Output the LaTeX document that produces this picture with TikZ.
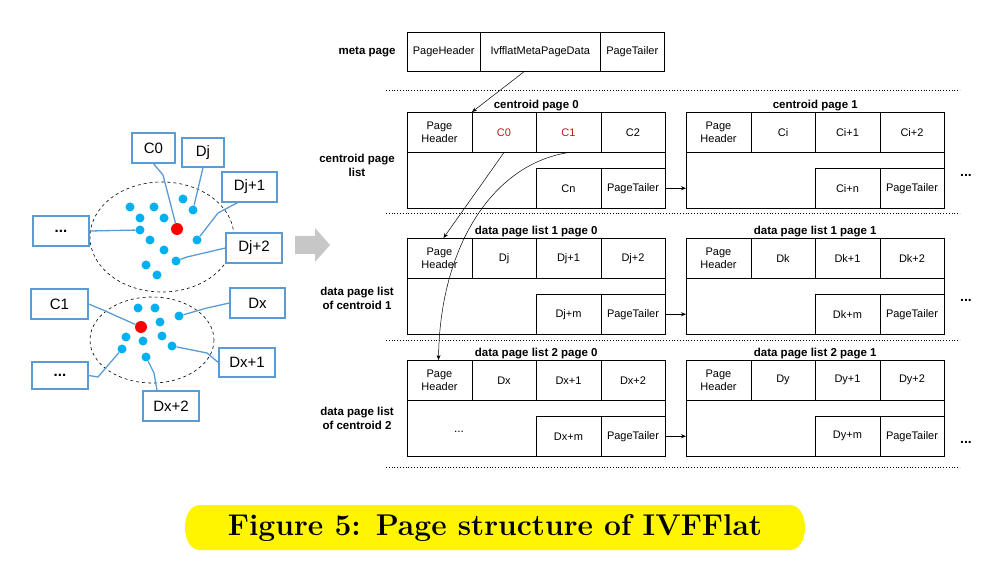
\documentclass[tikz,border=0pt]{standalone}
\usepackage{fontspec}
\setsansfont{Liberation Sans}
\usetikzlibrary{arrows.meta,shapes.geometric}
\definecolor{bbox}{RGB}{91,155,213}
\definecolor{dotc}{RGB}{0,176,240}
\definecolor{cred}{RGB}{180,30,30}
\definecolor{hl}{RGB}{255,245,0}
\tikzset{
 cell/.style={draw,line width=0.5pt,minimum width=64.5pt,minimum height=40pt,anchor=north west,inner sep=0pt,font=\sffamily\fontsize{11}{13}\selectfont,align=center},
 outer/.style={draw,line width=0.5pt,minimum width=258pt,minimum height=96pt,anchor=north west,inner sep=0pt},
 ttl/.style={font=\sffamily\bfseries\fontsize{11.5}{13}\selectfont},
 lab/.style={font=\sffamily\bfseries\fontsize{11.5}{14}\selectfont,align=center},
 sep/.style={dotted,line width=0.8pt},
 lbox/.style={draw=bbox,line width=1.3pt,fill=white,inner sep=0pt,font=\sffamily\fontsize{15}{16}\selectfont},
 lead/.style={draw=bbox,line width=1.3pt},
 dt/.style={fill=dotc,draw=none,circle,minimum size=9pt,inner sep=0pt},
 rd/.style={fill=red,draw=none,circle,minimum size=12pt,inner sep=0pt},
 arr/.style={-{Stealth[length=5pt,width=4pt]},line width=0.5pt},
 mcell/.style={draw,line width=0.5pt,minimum height=39pt,anchor=north west,inner sep=0pt,font=\sffamily\fontsize{11}{13}\selectfont}
}
\newcommand\pgblk[9]{%
 \node[outer] (#1) at (#2,#3) {};
 \node[ttl,above] at ([yshift=-2pt]#1.north) {#4};
 \node[cell] (#1-h) at (#2,#3) {Page\\Header};
 \node[cell] (#1-a) at (#2+64.5,#3) {#5};
 \node[cell] (#1-b) at (#2+129,#3) {#6};
 \node[cell] (#1-c) at (#2+193.5,#3) {#7};
 \node[cell] (#1-n) at (#2+129,#3+56) {#8};
 \node[cell] (#1-t) at (#2+193.5,#3+56) {PageTailer};
 \node[font=\sffamily\fontsize{12}{13}\selectfont] (#1-e) at (#2+52,#3+72) {#9};
}
\begin{document}
\begin{tikzpicture}[x=1pt,y=-1pt]
\useasboundingbox (0,0) rectangle (997,564);
\draw[dashed,line width=0.6pt] (162,237) ellipse [x radius=72,y radius=55];
\draw[dashed,line width=0.6pt] (152,340) ellipse [x radius=62,y radius=43];
\foreach \p [count=\i] in {(130,207),(154,207),(183,199),(193,210),(140,218),(164,218),(140,230),(150,240),(197,240),(164,250),(176,261),(146,265),(157,275)}
  \node[dt] (e\i) at \p {};
\node[rd] (r0) at (177,229) {};
\foreach \p [count=\i] in {(138,308),(155,308),(179,316),(160,322),(126,337),(143,341),(162,336),(172,346),(122,349),(146,357)}
  \node[dt] (f\i) at \p {};
\node[rd] (r1) at (141,327) {};
\node[lbox,minimum width=43pt,minimum height=30pt] (bC0) at (153.5,148) {C0};
\node[lbox,minimum width=42pt,minimum height=29pt] (bDj) at (203,152.5) {Dj};
\node[lbox,minimum width=55pt,minimum height=30pt] (bDj1) at (249.5,187) {Dj+1};
\node[lbox,minimum width=56pt,minimum height=30pt] (bd1) at (61,231) {\textbf{...}};
\node[lbox,minimum width=56pt,minimum height=30pt] (bDj2) at (254,248) {Dj+2};
\node[lbox,minimum width=57pt,minimum height=30pt] (bC1) at (59.5,304) {C1};
\node[lbox,minimum width=55pt,minimum height=30pt] (bDx) at (257.5,303) {Dx};
\node[lbox,minimum width=56pt,minimum height=29pt] (bDx1) at (247,362.5) {Dx+1};
\node[lbox,minimum width=56pt,minimum height=27pt] (bd2) at (60,375.5) {\textbf{...}};
\node[lbox,minimum width=56pt,minimum height=30pt] (bDx2) at (171,406) {Dx+2};
\draw[lead] (bC0.south) -- (163,175) -- (r0);
\draw[lead] (bDj.south) -- (e4);
\draw[lead] ([xshift=-12pt]bDj1.south) -- (218,213) -- (e9);
\draw[lead] (bd1.east) -- (e7);
\draw[lead] (bDj2.west) -- (187,257) -- (e11);
\draw[lead] (bC1.east) -- (103,310) -- (r1);
\draw[lead] (bDx.west) -- (207,308) -- (f3);
\draw[lead] (bDx1.west) -- (207,353) -- (f8);
\draw[lead] (bd2.east) -- (98,377) -- (f9);
\draw[lead] ([xshift=-14pt]bDx2.north) -- (154,373) -- (f10);
\fill[black!22] (295,236) -- (315,236) -- (315,228) -- (330,245) -- (315,262) -- (315,254) -- (295,254) -- cycle;
\node[lab,anchor=east] (ml) at (399,52) {meta page};
\node[mcell,minimum width=73pt] (m1) at (407,32) {PageHeader};
\node[mcell,minimum width=120pt] (m2) at (480,32) {IvfflatMetaPageData};
\node[mcell,minimum width=64pt] (m3) at (600,32) {PageTailer};
\foreach \yy in {90,213,340,467} \draw[sep] (386,\yy) -- (960,\yy);
\pgblk{c0}{407}{112}{centroid page 0}{\textcolor{cred}{C0}}{\textcolor{cred}{C1}}{C2}{Cn}{}
\pgblk{c1}{686}{112}{centroid page 1}{Ci}{Ci+1}{Ci+2}{Ci+n}{}
\pgblk{d1}{407}{238}{data page list 1 page 0}{Dj}{Dj+1}{Dj+2}{Dj+m}{}
\pgblk{d2}{686}{238}{data page list 1 page 1}{Dk}{Dk+1}{Dk+2}{Dk+m}{}
\pgblk{g1}{407}{360}{data page list 2 page 0}{Dx}{Dx+1}{Dx+2}{Dx+m}{...}
\pgblk{g2}{686}{360}{data page list 2 page 1}{Dy}{Dy+1}{Dy+2}{Dy+m}{}
\node[lab] at (357,165) {centroid page\\list};
\node[lab] at (357,298) {data page list\\of centroid 1};
\node[lab] at (357,418) {data page list\\of centroid 2};
\foreach \a/\b in {c0/c1,d1/d2,g1/g2}
  \draw[arr,line width=1pt] (\a-t.east) -- (\a-t.east -| \b.west);
\foreach \yy in {175,300,442}
  \node[font=\sffamily\bfseries\fontsize{14}{14}\selectfont] at (966,\yy) {...};
\draw[arr] (525,71) -- (c0-h.north east);
\draw[arr] (c0-a.south) -- ([xshift=4pt]d1-h.north);
\draw[arr] (c0-b.south) .. controls (490,165) and (440,250) .. ([xshift=-1pt]g1-h.north);
\fill[hl] (200,505) -- (790,505) .. controls (810,505) and (810,550) .. (790,550) -- (200,550) .. controls (180,550) and (180,505) .. (200,505) -- cycle;
\node[font=\bfseries\fontsize{30}{34}\selectfont] (cap) at (495,528) {Figure 5: Page structure of IVFFlat};
\end{tikzpicture}
\end{document}
